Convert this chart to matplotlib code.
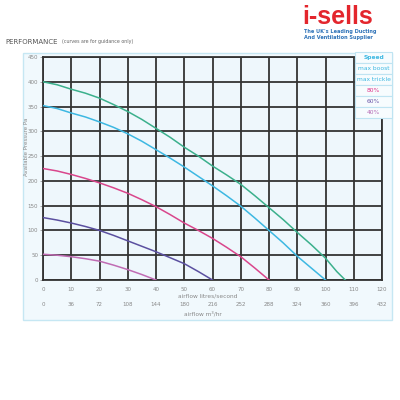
import matplotlib
matplotlib.use("Agg")
import matplotlib.pyplot as plt
from matplotlib.patches import Rectangle

# fan curves: airflow (l/s) -> available pressure (Pa)
boost_x = [0, 5, 10, 15, 20, 25, 30, 35, 40, 45, 50, 55, 60, 65, 70, 75, 80, 85, 90, 95, 100, 104, 107]
boost_p = [400, 394, 385, 377, 367, 354, 340, 324, 306, 288, 268, 250, 230, 212, 193, 170, 146, 122,
           96, 71, 44, 17, 0]
trickle_x = [0, 5, 10, 15, 20, 25, 30, 35, 40, 45, 50, 55, 60, 65, 70, 75, 80, 85, 90, 95, 100]
trickle_p = [352, 346, 337, 329, 319, 308, 295, 280, 263, 246, 228, 209, 190, 170, 149, 125, 100, 75,
             48, 24, 0]
p80_x = [0, 5, 10, 15, 20, 25, 30, 35, 40, 45, 50, 55, 60, 65, 70, 75, 80]
p80_p = [225, 220, 213, 205, 196, 186, 175, 162, 148, 132, 115, 100, 84, 66, 47, 24, 0]
p60_x = [0, 5, 10, 15, 20, 25, 30, 35, 40, 45, 50, 55, 60]
p60_p = [126, 121, 115, 108, 100, 90, 79, 68, 57, 45, 33, 17, 0]
p40_x = [0, 5, 10, 15, 20, 25, 30, 35, 40]
p40_p = [52, 50, 47, 43, 38, 30, 21, 11, 0]

xticks_ls = [0, 10, 20, 30, 40, 50, 60, 70, 80, 90, 100, 110, 120]
xticks_m3h = [0, 36, 72, 108, 144, 180, 216, 252, 288, 324, 360, 396, 432]
yticks = [0, 50, 100, 150, 200, 250, 300, 350, 400, 450]

SERIES = [("max boost", "#3bb08c", boost_x, boost_p),
          ("max trickle", "#3db8e2", trickle_x, trickle_p),
          ("80%", "#d9468c", p80_x, p80_p),
          ("60%", "#5b50a0", p60_x, p60_p),
          ("40%", "#c06cb4", p40_x, p40_p)]
LEGEND_TXT = ["#3db8e2", "#3db8e2", "#3db8e2", "#e0338a", "#6a56a8", "#b56ab5"]

W = H = 400.0
fig = plt.figure(figsize=(4, 4), dpi=100)
fig.patch.set_facecolor("white")

def fx(px):
    return px / W

def fy(py):
    return 1 - py / H

# light blue panel behind the chart
fig.patches.append(Rectangle((fx(23), fy(320)), fx(392) - fx(23), fy(53) - fy(320),
                             transform=fig.transFigure, facecolor="#f1f9fd",
                             edgecolor="#c6e7f3", lw=1.0, zorder=-1))

ax = fig.add_axes([fx(43), fy(280), fx(382) - fx(43), fy(57) - fy(280)], zorder=1)
ax.set_facecolor("#eef7fc")
for label, color, xs, ps in SERIES:
    ax.plot(xs, ps, color=color, lw=1.1, zorder=3)

ax.set_xlim(0, 120)
ax.set_ylim(0, 450)
ax.set_xticks(xticks_ls)
ax.set_yticks(yticks)
ax.grid(True, color="#333333", lw=1.3, zorder=1)
ax.set_axisbelow(True)
for s in ax.spines.values():
    s.set_color("#333333")
    s.set_linewidth(1.3)
ax.tick_params(axis="both", colors="#888888", labelsize=4.0, length=2, width=0.5, pad=1.5)
ax.set_xticklabels([str(v) for v in xticks_ls])
ax.set_yticklabels([str(v) for v in yticks])
ax.tick_params(axis="x", length=0, pad=5)

# second x scale (m3/hr) and axis titles
for v, m in zip(xticks_ls, xticks_m3h):
    ax.text(v, -0.112, str(m), transform=ax.get_xaxis_transform(), ha="center", va="center",
            fontsize=4.0, color="#888888")
fig.text(fx(178), fy(296), "airflow litres/second", fontsize=4.2, color="#888888", va="center")
fig.text(fx(184), fy(314), "airflow m\u00b3/hr", fontsize=4.2, color="#888888", va="center")
fig.text(fx(26), fy(147), "Available Pressure Pa", fontsize=4.0, color="#888888",
         rotation=90, ha="center", va="center")

# legend table on the right, over the top-right of the grid
rows = ["Speed"] + [s[0] for s in SERIES]
top, rh = 52.0, 11.0
for i, (txt, c) in enumerate(zip(rows, LEGEND_TXT)):
    y0 = top + i * rh
    fig.patches.append(Rectangle((fx(355), fy(y0 + rh)), fx(392) - fx(355), rh / H,
                                 transform=fig.transFigure, facecolor="#f7fcfe",
                                 edgecolor="#bfe4f2", lw=0.8, zorder=5))
    fig.text(fx(373.5), fy(y0 + rh / 2), txt, fontsize=4.3, color=c, ha="center", va="center",
             fontweight="bold" if i == 0 else "normal", zorder=6)

# heading
fig.text(fx(5), fy(42), "PERFORMANCE", fontsize=5, color="#555555", va="center")
fig.text(fx(62), fy(42), "(curves are for guidance only)", fontsize=3.4, color="#666666", va="center")

# logo
fig.text(fx(302), fy(17), "i-sells", fontsize=18, color="#e3262d", fontweight="bold",
         va="center", ha="left", family="Liberation Sans")
fig.text(fx(304), fy(31.5), "The UK's Leading Ducting", fontsize=3.6, color="#2f73b8",
         fontweight="bold", va="center")
fig.text(fx(304), fy(38), "And Ventilation Supplier", fontsize=3.6, color="#2f73b8",
         fontweight="bold", va="center")

fig.savefig("out.png", dpi=100)
